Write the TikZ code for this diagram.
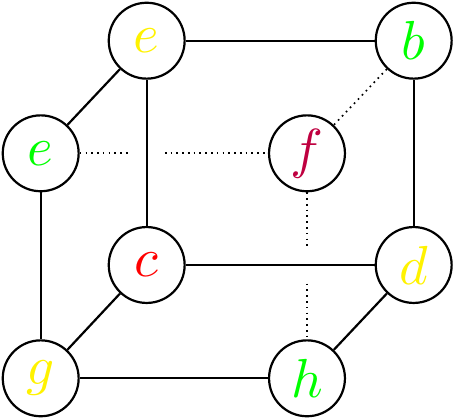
\documentclass[tikz,border=0pt]{standalone}
\begin{document}
\begin{tikzpicture}[x=0.181818pt,y=-0.181818pt,
  vtx/.style={circle,draw,line width=0.4pt,minimum size=13.8pt,inner sep=0pt},
  edge/.style={line width=0.4pt},
  hidden/.style={line width=0.3pt,dash pattern=on 0.3pt off 0.75pt}]
\useasboundingbox (0,0) rectangle (454,419);
\node[vtx] (et) at (146.7,40.7) {$\color{yellow}e$};
\node[vtx] (b)  at (413.7,40.7) {$\color{green}b$};
\node[vtx] (el) at (40.7,153.3) {$\color{green}e$};
\node[vtx] (f)  at (307,153.3) {$\color{purple}f$};
\node[vtx] (c)  at (146.7,265) {$\color{red}c$};
\node[vtx] (d)  at (413.7,265) {$\color{yellow}d$};
\node[vtx] (g)  at (40.7,378.3) {$\color{yellow}g$};
\node[vtx] (h)  at (307,378.3) {$\color{green}h$};
\coordinate (x1) at (et |- el);
\coordinate (x2) at (f |- c);
\draw[edge] (et) -- (b);
\draw[edge] (et) -- (el);
\draw[edge] (et) -- (c);
\draw[edge] (b) -- (d);
\draw[edge] (el) -- (g);
\draw[edge] (c) -- (d);
\draw[edge] (c) -- (g);
\draw[edge] (d) -- (h);
\draw[edge] (g) -- (h);
\draw[hidden] (b) -- (f);
\draw[hidden] (el) -- ([xshift=-3.3pt]x1);
\draw[hidden] ([xshift=3.3pt]x1) -- (f);
\draw[hidden] (f) -- ([yshift=3.4pt]x2);
\draw[hidden] ([yshift=-3.4pt]x2) -- (h);
\end{tikzpicture}
\end{document}
